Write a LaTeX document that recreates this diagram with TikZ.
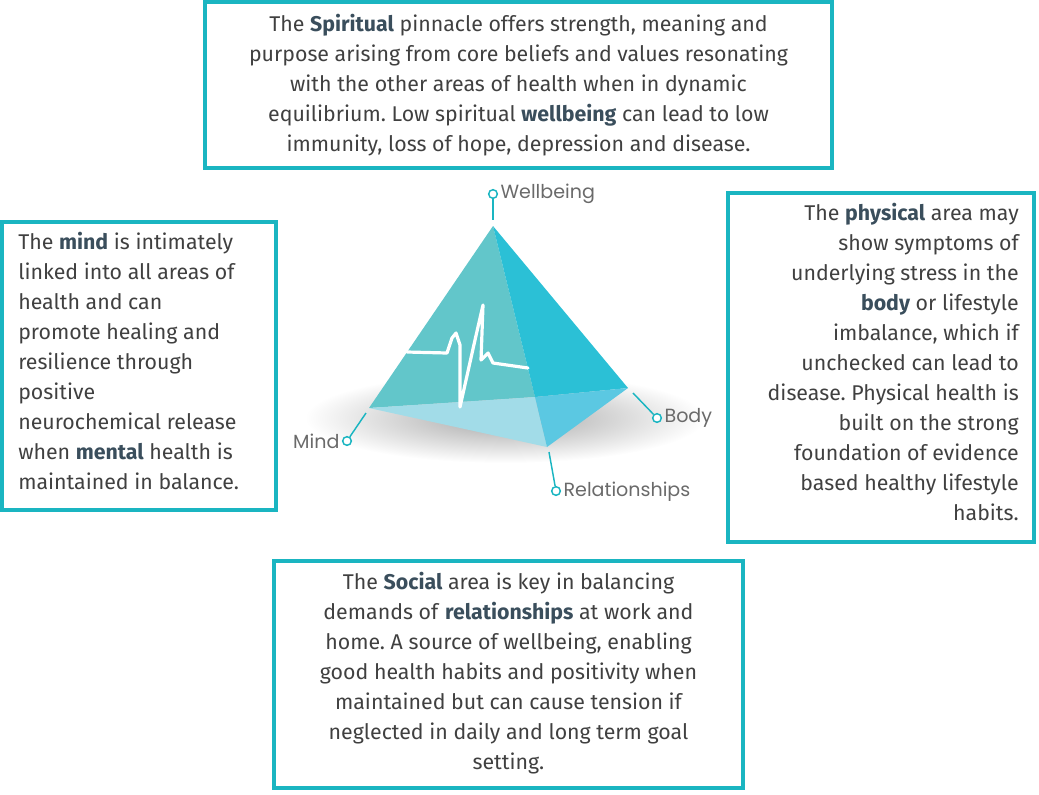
\documentclass[tikz,border=0pt]{standalone}
\usepackage{fontspec}
\setmainfont{Fira Sans}[Ligatures=NoCommon]
\newfontfamily\lblfont{Poppins}
\frenchspacing
\definecolor{teal1}{HTML}{1AB5C1}
\definecolor{txt}{HTML}{404040}
\definecolor{bld}{HTML}{3A4E5C}
\definecolor{fUL}{HTML}{62C6CA}
\definecolor{fUR}{HTML}{2BC0D6}
\definecolor{fLL}{HTML}{A2DCE8}
\definecolor{fLR}{HTML}{5BC8E2}
\definecolor{lbl}{HTML}{6A6A6A}
\newcommand{\hb}[1]{\textbf{\color{bld}#1}}
\begin{document}
\begin{tikzpicture}[x=0.75pt,y=-0.75pt,
  box/.style={draw=teal1,line width=2.4pt},
  tx/.style={text=txt,font=\fontsize{16}{22.5}\selectfont,inner sep=0pt},
  lab/.style={text=lbl,font=\lblfont\fontsize{14.3}{15}\selectfont,inner sep=1pt},
  pin/.style={draw=teal1,line width=1.1pt},
  dot/.style={circle,draw=teal1,line width=1.1pt,fill=white,minimum size=6.5pt,inner sep=0pt}]
\useasboundingbox (0,0) rectangle (1039,794);
% boxes
\draw[box] (205,2) rectangle (832,168);
\node[tx,align=center] (top) at (518.5,85) {The \hb{Spiritual} pinnacle offers strength, meaning and\\purpose arising from core beliefs and values resonating\\with the other areas of health when in dynamic\\equilibrium. Low spiritual \hb{wellbeing} can lead to low\\immunity, loss of hope, depression and disease.};
\draw[box] (2,222) rectangle (276,510);
\node[tx,align=left,anchor=north west] (left) at (18,232) {The \hb{mind} is intimately\\linked into all areas of\\health and can\\promote healing and\\resilience through\\positive\\neurochemical release\\when \hb{mental} health is\\maintained in balance.};
\draw[box] (728,193) rectangle (1034,542);
\node[tx,align=right,anchor=north east] (right) at (1019,203) {The \hb{physical} area may\\show symptoms of\\underlying stress in the\\\hb{body} or lifestyle\\imbalance, which if\\unchecked can lead to\\disease. Physical health is\\built on the strong\\foundation of evidence\\based healthy lifestyle\\habits.};
\draw[box] (274,561) rectangle (743,788);
\node[tx,align=center] (bot) at (508.5,673) {The \hb{Social} area is key in balancing\\demands of \hb{relationships} at work and\\home. A source of wellbeing, enabling\\good health habits and positivity when\\maintained but can cause tension if\\neglected in daily and long term goal\\setting.};
% shadow
\shade[inner color=black!35,outer color=white] (505,418) ellipse (200 and 45);
% pyramid
\coordinate (A) at (493,226);
\coordinate (L) at (369,408);
\coordinate (R) at (628,388);
\coordinate (B) at (547,447);
\coordinate (X) at (535,397);
\fill[fUL] (A)--(L)--(X)--cycle;
\fill[fUR] (A)--(X)--(R)--cycle;
\fill[fLL] (L)--(X)--(B)--cycle;
\fill[fLR] (X)--(R)--(B)--cycle;
\draw[white,line width=2.4pt,line join=round,line cap=round] (407,352)--(447,353)--(452,338)--(456,333)--(460,345)--(460,407)--(475,340)--(483,305)--(481,360)--(488,353)--(493,363)--(528,368);
% labels
\node[dot] (dw) at (493,194) {};
\node[lab,anchor=west] (w) at (499,194) {Wellbeing};
\draw[pin] (dw) -- (493,220);
\node[dot] (dm) at (347,441) {};
\node[lab,anchor=east] (m) at (341,441) {Mind};
\draw[pin] (dm) -- (366,413);
\node[dot] (db) at (657,418) {};
\node[lab,anchor=west] (b) at (663,418) {Body};
\draw[pin] (db) -- (633,393);
\node[dot] (dr) at (556,491) {};
\node[lab,anchor=west] (r) at (562,492) {Relationships};
\draw[pin] (dr) -- (549,452);
\end{tikzpicture}
\end{document}
